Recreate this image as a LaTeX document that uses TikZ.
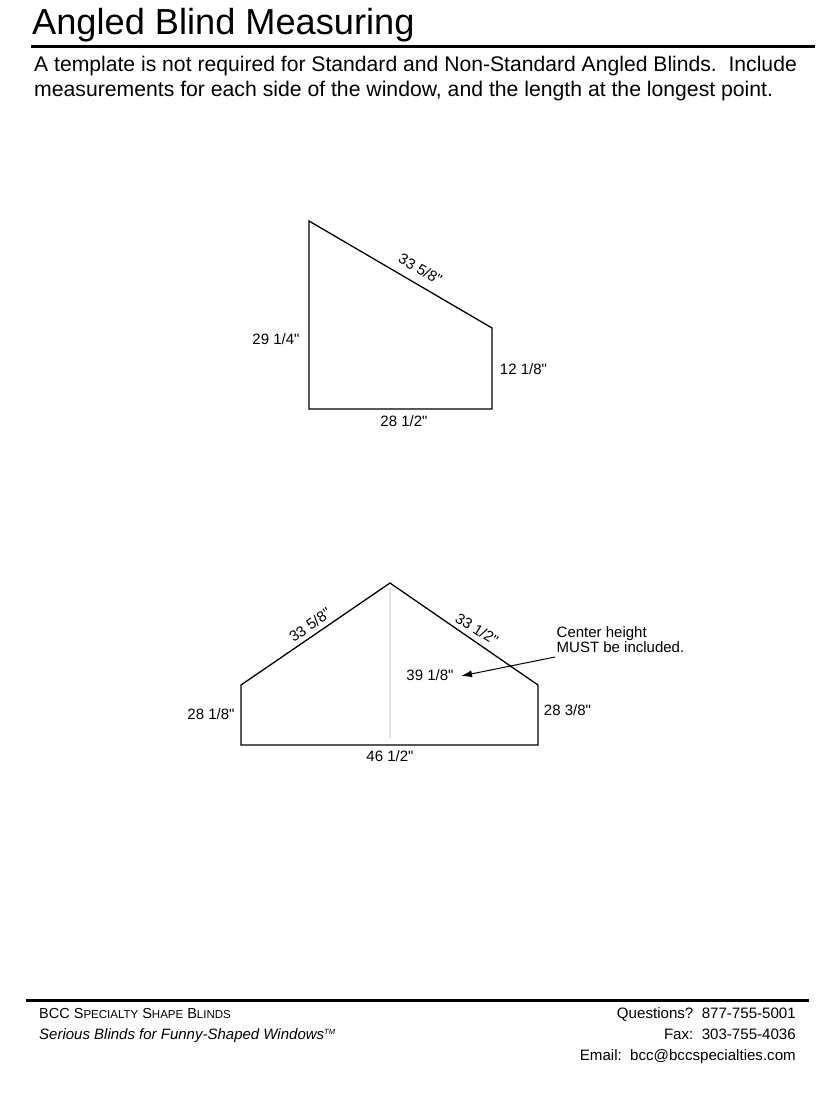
\documentclass[tikz,border=0pt]{standalone}
\usepackage{fontspec}
\setmainfont[Ligatures=TeXOff]{Liberation Sans}
\usetikzlibrary{arrows.meta}
\tikzset{
  x=1pt,y=-1pt,
  shapeline/.style={draw=black,line width=1.3pt,line join=miter},
  dim/.style={font=\fontsize{15}{18}\selectfont,inner sep=0pt,anchor=center},
  rule/.style={line width=3pt,draw=black},
  para/.style={font=\fontsize{21.2}{25}\selectfont,inner sep=0pt,anchor=base west},
  foot/.style={font=\fontsize{15.1}{18}\selectfont,inner sep=0pt},
}
\begin{document}
\begin{tikzpicture}
\useasboundingbox[fill=white] (0,0) rectangle (839,1106);
\node[inner sep=0pt,anchor=base west,font=\fontsize{36.2}{42}\selectfont] (title) at (32,34.5) {Angled Blind Measuring};
\coordinate (r1a) at (31,46); \coordinate (r1b) at (815,46);
\draw[rule] (r1a) -- (r1b);
\node[para,font=\fontsize{21.14}{25}\selectfont] (p1) at (34,71) {A template is not required for Standard and Non-Standard Angled Blinds.\ \ Include};
\node[para] (p2) at (34,96) {measurements for each side of the window, and the length at the longest point.};
% shape 1
\coordinate (a1) at (309,221); \coordinate (a2) at (492,328); \coordinate (a3) at (492,409); \coordinate (a4) at (309,409);
\draw[shapeline] (a1) -- (a2) -- (a3) -- (a4) -- cycle;
\node[dim,rotate=-30] (d1) at (420.5,269) {33 5/8"};
\node[dim] (d2) at (276,339.5) {29 1/4"};
\node[dim] (d3) at (523.5,369.5) {12 1/8"};
\node[dim] (d4) at (404,421) {28 1/2"};
% shape 2
\coordinate (b1) at (241,685); \coordinate (b2) at (390,583); \coordinate (b3) at (538,685); \coordinate (b4) at (538,745); \coordinate (b5) at (241,745);
\coordinate (gt) at (390,588); \coordinate (gb) at (390,738);
\draw[draw=black!12,line width=1.2pt] (gt) -- (gb);
\draw[shapeline] (b1) -- (b2) -- (b3) -- (b4) -- (b5) -- cycle;
\node[dim,rotate=35] (e1) at (310,625) {33 5/8"};
\node[dim,rotate=-32] (e2) at (477,629) {33 1/2"};
\node[dim] (e3) at (211,714.5) {28 1/8"};
\node[dim] (e4) at (567.5,710) {28 3/8"};
\node[dim] (e5) at (390,756) {46 1/2"};
\node[dim] (e6) at (430,675.5) {39 1/8"};
\node[dim,anchor=base west] (n1) at (556.5,637) {Center height};
\node[dim,anchor=base west] (n2) at (556.5,652) {MUST be included.};
\coordinate (ar) at (555,657); \coordinate (at) at (461,676);
\draw[line width=1pt,-{Latex[length=11pt,width=7pt]}] (ar) -- (at);
% footer
\coordinate (r2a) at (26,1000); \coordinate (r2b) at (809,1000);
\draw[rule] (r2a) -- (r2b);
\node[foot,anchor=base west,font=\fontsize{14.5}{18}\selectfont] (f1) at (39,1018) {BCC S{\fontsize{11.5}{14}\selectfont PECIALTY} S{\fontsize{11.5}{14}\selectfont HAPE} B{\fontsize{11.5}{14}\selectfont LINDS}};
\node[foot,anchor=base west,font=\fontsize{15}{18}\selectfont\itshape] (f2) at (39,1039) {Serious Blinds for Funny-Shaped Windows\raisebox{4.5pt}{\fontsize{7.5}{8}\selectfont TM}};
\node[foot,anchor=base east] (f3) at (796,1018) {Questions?\ \ 877-755-5001};
\node[foot,anchor=base east] (f4) at (796,1039) {Fax:\ \ 303-755-4036};
\node[foot,anchor=base east] (f5) at (796,1060) {Email:\ \ bcc@bccspecialties.com};
\end{tikzpicture}
\end{document}
